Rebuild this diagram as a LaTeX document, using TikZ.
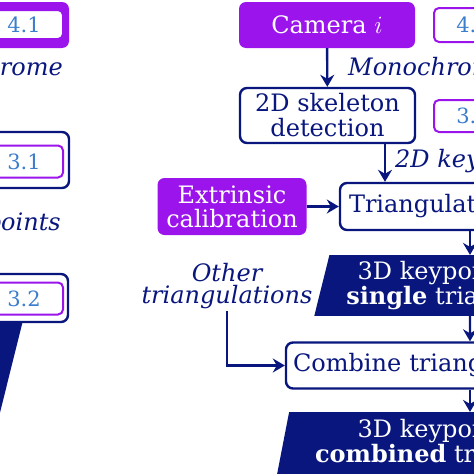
\documentclass[tikz,border=0pt]{standalone}
\usepackage{fontspec}
\setmainfont{DejaVu Serif}
\usetikzlibrary{arrows.meta,shapes.geometric}
\definecolor{camviolet}{RGB}{155,20,235}
\definecolor{navy}{RGB}{8,22,125}
\definecolor{secblue}{RGB}{60,125,205}
\tikzset{
 source/.style={fill=camviolet,rounded corners=7pt,text=white,align=center,font=\fontsize{24}{24}\selectfont},
 block/.style={draw=navy,line width=2.4pt,fill=white,rounded corners=7pt,text=navy,align=center,font=\fontsize{24}{25}\selectfont},
 tag/.style={draw=camviolet,line width=2pt,fill=white,rounded corners=5pt,text=secblue,minimum width=78pt,minimum height=32pt,font=\fontsize{21}{21}\selectfont},
 data/.style={trapezium,trapezium left angle=76,trapezium right angle=104,fill=navy,text=white,align=center,minimum height=57pt,font=\fontsize{24}{22}\selectfont},
 note/.style={text=navy,align=center,inner sep=2pt,font=\fontsize{24}{22}\selectfont\itshape},
 flow/.style={-{Stealth[length=12pt,width=14pt,inset=4pt]},draw=navy,line width=2.4pt}
}
\begin{document}
\begin{tikzpicture}[x=1pt,y=-1pt]
\path[use as bounding box,clip] (0,0) rectangle (474,474);
% left column, only its right edge is in view
\node[source,minimum width=340pt,minimum height=46pt] (cam0) at (-101,25) {};
\node[tag,minimum height=29pt] (sec0) at (24,24.5) {4.1};
\node[note,anchor=base east] (mono0) at (65,75) {Monochrome};
\node[block,minimum width=300pt,minimum height=56pt] (skel0) at (-81,160) {};
\node[tag] (sec01) at (24,161.5) {3.1};
\node[note,anchor=base east] (kp0) at (63,230) {2D keypoints};
\node[block,minimum width=300pt,minimum height=48pt] (tri0) at (-82,298) {};
\node[tag] (sec02) at (24,298.5) {3.2};
\node[data,minimum width=300pt,minimum height=58pt] (single0) at (-127,421) {};

% right column
\node[source,minimum width=176pt,minimum height=46pt] (cam) at (327,25) {Camera $i$};
\node[tag,minimum height=34pt] (sec1) at (473,25) {4.1};
\node[note,anchor=base west] (mono) at (346,75) {Monochrome};
\node[block,minimum width=175pt,minimum height=55pt] (skel) at (327.5,115.5) {2D skeleton\\detection};
\node[tag] (sec2) at (473,116) {3.1};
\node[note,anchor=base west] (kp2d) at (393,167) {2D keypoints};
\node[source,minimum width=149pt,minimum height=57pt] (extr) at (232,206.5) {Extrinsic\\calibration};
\node[block,minimum height=47pt,text width=242pt,inner xsep=9pt,align=left] (tri) at (470,206.5) {Triangulation};
\node[data,minimum width=312pt] (single) at (470,285.5) {3D keypoints from\\\textbf{single} triangulation};
\node[note] (other) at (227,286.5) {Other\\triangulations};
\node[block,minimum height=46pt,text width=354pt,inner xsep=7pt,align=left] (comb) at (470,365.5) {Combine triangulations};
\node[data,minimum width=388pt,trapezium left angle=79,trapezium right angle=101] (combined) at (470,443.5) {3D keypoints from\\\textbf{combined} triangulations};

\draw[flow] (cam) -- (skel);
\draw[flow] ([xshift=57.5pt]skel.south) -- ([xshift=57.5pt]skel.south |- tri.north);
\draw[flow] (extr) -- (tri);
\draw[flow] (tri) -- (single);
\draw[flow] (single) -- (comb);
\draw[flow] (other) |- (comb);
\draw[flow] (comb) -- (combined);
\end{tikzpicture}
\end{document}
